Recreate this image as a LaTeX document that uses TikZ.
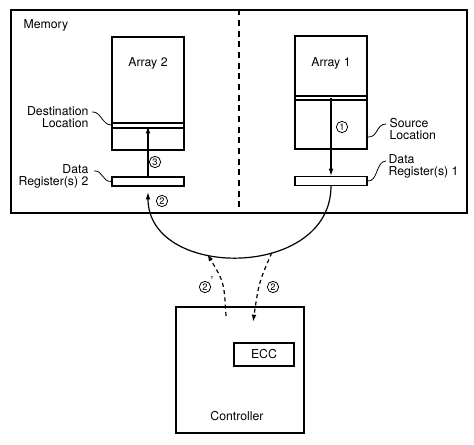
\documentclass[tikz,border=0pt]{standalone}
\usepackage{fontspec}
\setmainfont{TeX Gyre Heros}
\usetikzlibrary{arrows.meta}

\tikzset{every picture/.style={line width=0.9pt}}

\begin{document}
\begin{tikzpicture}[x=0.75pt,y=0.75pt,yscale=-1,xscale=1,
  box/.style={draw, inner sep=0pt},
  lbl/.style={inner sep=0.75pt, font=\fontsize{9.2}{9}\selectfont},
  num/.style={circle, draw, line width=0.6pt, inner sep=0pt, minimum size=8.5pt, font=\fontsize{7}{7}\selectfont},
  arr/.style={-{Latex[length=5.5pt,width=3.5pt]}},
  dasharr/.style={arr, dash pattern=on 3pt off 2.5pt},
  curl/.style={line width=0.6pt}]
\useasboundingbox (0,0) rectangle (474,445);

%Shape: Rectangle [memory]
\node[box, line width=1.2pt, minimum width=342pt, minimum height=152.25pt] (mem) at (239,111.5) {};
%Straight Lines [divider]
\draw [dash pattern=on 4.5pt off 3.5pt] (mem.north) -- (mem.south) ;

%Shape: Rectangle [arrays]
\node[box, minimum width=54pt, minimum height=84.75pt] (arr2) at (148,93.5) {};
\node[box, minimum width=54pt, minimum height=84.75pt] (arr1) at (331,92.5) {};
\draw (arr2.west |- 0,123) -- (arr2.east |- 0,123) ;
\draw (arr2.west |- 0,128) -- (arr2.east |- 0,128) ;
\draw (arr1.west |- 0,96) -- (arr1.east |- 0,96) ;
\draw (arr1.west |- 0,100) -- (arr1.east |- 0,100) ;
\coordinate (dst) at (148,126) ;
\coordinate (src) at (331,98) ;

%Shape: Rectangle [registers]
\node[box, minimum width=54pt, minimum height=6.75pt] (reg2) at (148,181.5) {};
\node[box, minimum width=54pt, minimum height=6.5pt] (reg1) at (331,181) {};

%Shape: Rectangle [controller]
\node[box, line width=1.1pt, minimum width=96pt, minimum height=94.5pt] (ctrl) at (240,370) {};
\node[box, lbl, minimum width=45pt, minimum height=17.25pt] (ecc) at (264,354.5) {ECC};

% Text Node
\node[lbl, anchor=west] (memlbl) at (22,25) {Memory};
% Text Node
\node[lbl] (arr2lbl) at (148,63) {Array 2};
% Text Node
\node[lbl] (arr1lbl) at (331,63) {Array 1};
% Text Node
\node[lbl, align=right, anchor=east] (dstlbl) at (90,117) {Destination\\Location};
% Text Node
\node[lbl, align=right, anchor=east] (reg2lbl) at (90,176) {Data\\Register(s) 2};
% Text Node
\node[lbl, align=left, anchor=west] (srclbl) at (388,129.5) {Source\\Location};
% Text Node
\node[lbl, align=left, anchor=west] (reg1lbl) at (387,166) {Data\\Register(s) 1};
% Text Node
\node[lbl] (ctrllbl) at (237,416) {Controller};

%Curves [leaders]
\coordinate (dstc) at (92,112) ;
\coordinate (reg2c) at (94,171) ;
\coordinate (srcc) at (386,124) ;
\coordinate (reg1c) at (386,161) ;
\draw [curl] (dstc) .. controls (101,111) and (102,125) .. (arr2.west |- 0,125) ;
\draw [curl] (reg2c) .. controls (103,170) and (102,182) .. (reg2.west) ;
\draw [curl] (arr1.east |- 0,137) .. controls (378,138) and (376,124) .. (srcc) ;
\draw [curl] (reg1.east) .. controls (378,182) and (376,161) .. (reg1c) ;

%Straight Lines [steps]
\draw [arr] (src) -- (reg1.north) ;
\draw [arr] (reg2.north) -- (dst) ;
\coordinate (in2) at (148,192) ;
\draw [arr] (reg1.south) .. controls (331,280) and (148,280) .. (in2) coordinate[pos=0.38] (cr) coordinate[pos=0.62] (cl) ;
\coordinate (up) at (226,316) ;
\coordinate (down) at (253,322) ;
\draw [dasharr] (up) .. controls (224,282) .. (cl) ;
\draw [dasharr] (cr) .. controls (259,282) .. (down) ;

% Step Numbers
\node[num] (n3) at (155,162) {3};
\node[num] (n1) at (342,127) {1};
\node[num] (n2) at (162,201) {2};
\node[num] (n2l) at (205,287) {2};
\node[lbl, inner sep=0pt] (n2lp) at (212,281) {'};
\node[num] (n2r) at (273,287) {2};

\end{tikzpicture}
\end{document}
